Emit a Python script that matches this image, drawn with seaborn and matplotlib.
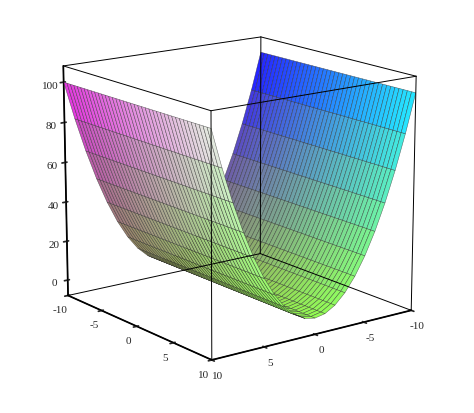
import numpy as np
import matplotlib
matplotlib.use("Agg")
import matplotlib.pyplot as plt
import seaborn as sns

sns.set_theme(style="white")
plt.rcParams['font.family'] = ['Liberation Serif', 'DejaVu Serif']

x_range = [-10, 10]
y_range = [-10, 10]
z_ticks = [0, 20, 40, 60, 80, 100]
xy_ticks = [-10, -5, 0, 5, 10]
nx, ny = 21, 41

x = np.linspace(x_range[0], x_range[1], nx)
y = np.linspace(y_range[0], y_range[1], ny)
X, Y = np.meshgrid(x, y)
Z = X ** 2

u = X / 10.0
v = (Y + 10) / 20.0
h = Z / 100.0
R = 0.5 + 0.5 * u * h
G = 0.5 * (1 - h) + 0.5 * v + 0.4 * v * h
B = 0.2 + 0.8 * h
cols = np.clip(np.dstack([R, G, B, np.ones_like(R)]), 0, 1)
cols[..., :3] = 0.85 * cols[..., :3] + 0.15

fig = plt.figure(figsize=(4.74, 4.13), dpi=100)
ax = fig.add_axes([-0.01, 0.03, 1, 1], projection='3d')
ax.plot_surface(X, Y, Z, facecolors=cols, edgecolor=(0.15, 0.15, 0.15, 0.7), linewidth=0.35,
                shade=False, rstride=1, cstride=1, antialiased=True)

zl = (-8, 108)
ax.set_xlim(*x_range); ax.set_ylim(*y_range); ax.set_zlim(*zl)
xs, ys, zs = x_range, y_range, zl
for a in xs:
    for b in ys:
        ax.plot([a, a], [b, b], zs, color='black', lw=0.7)
for a in xs:
    for c in zs:
        ax.plot([a, a], ys, [c, c], color='black', lw=0.7)
for b in ys:
    for c in zs:
        ax.plot(xs, [b, b], [c, c], color='black', lw=0.7)

ax.set_xticks(xy_ticks); ax.set_yticks(xy_ticks); ax.set_zticks(z_ticks)
ax.set_xticklabels([str(t) for t in xy_ticks], fontsize=8)
ax.set_yticklabels([str(t) for t in xy_ticks], fontsize=8)
ax.set_zticklabels([str(t) for t in z_ticks], fontsize=8)
for axis in (ax.xaxis, ax.yaxis, ax.zaxis):
    axis.pane.fill = False
    axis.pane.set_edgecolor((1, 1, 1, 0))
    axis._axinfo['grid']['color'] = (1, 1, 1, 0)
    axis.line.set_color('black')
ax.grid(False)
ax.set_box_aspect((0.88, 0.88, 0.85))
ax.view_init(elev=15, azim=53)
ax.tick_params(pad=-2)

fig.savefig("out.png", dpi=100, facecolor='white')
